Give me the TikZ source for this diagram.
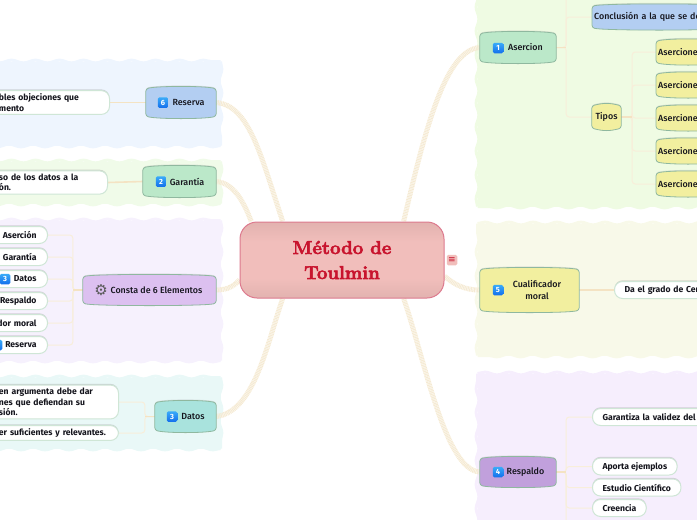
\documentclass[tikz,border=0pt]{standalone}
\usepackage{fontspec}
\setsansfont{Fira Sans}
\newfontfamily\symbolfont{DejaVu Sans}
\newfontfamily\topicfont{Fira Sans Medium}
\newfontfamily\titlefont[BoldFeatures={FakeBold=3}]{Latin Modern Roman}
\usetikzlibrary{backgrounds,decorations.pathmorphing,shadows}
\definecolor{inkdark}{HTML}{14141C}
\definecolor{wirecream}{HTML}{F5EAD3}
\definecolor{twigcream}{HTML}{F8EEDA}
\definecolor{stemcream}{HTML}{F4E3C3}
\definecolor{boxedge}{HTML}{8FB89F}
\definecolor{leafedge}{HTML}{CFE6D6}
\definecolor{hubred}{HTML}{C8142E}
\definecolor{hubfill}{HTML}{F1BEBB}
\definecolor{hubedge}{HTML}{DD7A8E}
\definecolor{reservablue}{HTML}{B3CEF2}
\definecolor{garantiagreen}{HTML}{BBE8C9}
\definecolor{constalilac}{HTML}{DCC0F0}
\definecolor{datosteal}{HTML}{A9E3DD}
\definecolor{aseryellow}{HTML}{F2EF9F}
\definecolor{respaldopurple}{HTML}{C1A0DC}
\definecolor{blockblue}{HTML}{EEF5FE}
\definecolor{blockgreen}{HTML}{F0FBE9}
\definecolor{blocklilac}{HTML}{F6F1FD}
\definecolor{blockteal}{HTML}{E9F8F7}
\definecolor{blockspring}{HTML}{EFFBE3}
\definecolor{blockcream}{HTML}{F8F9E9}
\definecolor{blockpurple}{HTML}{F6EEFD}
\pgfdeclareverticalshading{hubshade}{100bp}{
  color(0bp)=(hubfill!82!black); color(38bp)=(hubfill); color(62bp)=(hubfill); color(100bp)=(hubfill!82!black)}
\pgfdeclareverticalshading{badgeshade}{100bp}{
  color(0bp)=(blue!65!cyan!90!black); color(100bp)=(cyan!70!blue!70!white)}
\newcommand\lpad{\hspace*{34.5pt}}
\newcommand\waveblock[5]{
  \fill[#1] (#2,#3) rectangle (#4,#5);
  \draw[block,draw=#1] (#2,#3) -- (#4,#3);
  \draw[block,draw=#1] (#4,#3) -- (#4,#5);
  \draw[block,draw=#1] (#4,#5) -- (#2,#5);
  \draw[block,draw=#1] (#2,#5) -- (#2,#3);
}
\tikzset{
  hubbox/.style={draw=hubedge,line width=1,rounded corners=17,shading=hubshade,
    minimum width=204,minimum height=76,align=center,text=hubred,
    font=\titlefont\bfseries\fontsize{18.6}{25}\selectfont},
  topic/.style={inner sep=2,align=center,text=inkdark,font=\topicfont\fontsize{8.9}{12.5}\selectfont},
  topiccut/.style={topic,anchor=west,text width=#1,align=left},
  leaf/.style={draw=leafedge,line width=1,fill=white,rounded corners=8,inner ysep=3,text=inkdark,
    drop shadow={shadow xshift=0,shadow yshift=-1.2,opacity=.3},
    font=\sffamily\bfseries\fontsize{8.6}{10.6}\selectfont},
  leafin/.style={leaf,anchor=west,inner xsep=10,minimum height=17},
  leafout/.style={leaf,anchor=west,inner xsep=10,minimum height=17,text width=#1,align=left},
  leafend/.style={leaf,anchor=east,inner xsep=11,minimum height=17,text width=70,align=right},
  leafcut/.style={leaf,anchor=east,inner xsep=5,text width=#1,align=left},
  badge/.style={rounded corners=1.5,shading=badgeshade,minimum size=10.5,inner sep=0,text=white,
    font=\sffamily\bfseries\fontsize{7.5}{8}\selectfont},
  noteicon/.style={fill=hubfill,rounded corners=1.5,minimum size=10.5,inner sep=0,text=hubred,
    font=\symbolfont\fontsize{9}{9}\selectfont},
  gearicon/.style={inner sep=0,text=gray!70!black,font=\symbolfont\fontsize{15}{15}\selectfont},
  block/.style={line width=3,decorate,decoration={snake,segment length=24,amplitude=1.4}},
  wire/.style={draw=wirecream,line width=5,dash pattern=on 1 off .6},
  twig/.style={draw=twigcream,line width=1,rounded corners=3},
  stem/.style={draw=stemcream,line width=1.6},
  bulge/.style={draw=boxedge,line width=.8,rounded corners=2.5,
    drop shadow={shadow xshift=0,shadow yshift=-1,opacity=.18}}
}
\begin{document}
\begin{tikzpicture}[x=1pt,y=-1pt]
\useasboundingbox (0,0) rectangle (697,520);

% centre
\node[hubbox] (hub) at (342,260) {M\'etodo de\\Toulmin};
\node[noteicon] (note) at (452,260) {≡};

% left topics
\node[topic,minimum width=70,minimum height=33] (reserva) at (181,102.5) {\hspace*{15pt}Reserva};
\node[topic,minimum width=73,minimum height=33] (garantia) at (179.5,181.5) {\hspace*{15pt}Garant\'ia};
\node[topic,minimum width=133,minimum height=32] (consta) at (149.5,290) {\hspace*{14pt}Consta de 6 Elementos};
\node[topic,minimum width=61,minimum height=33] (datos) at (185.5,416.5) {\hspace*{15pt}Datos};
\node[badge] (numreserva) at (163,102.5) {6};
\node[badge] (numgarantia) at (161,181.5) {2};
\node[gearicon] (gear) at (101,290) {⚙};
\node[badge] (numdatos) at (172,416.5) {3};

% left leaves
\node[leafcut=140] (kidreserva) at (110,102.5) {\lpad bles objeciones que\\\lpad mento};
\node[leafcut=138] (kidgarantia) at (108,182.5) {\lpad so de los datos a la\\\lpad \'on.};
\node[leafend] (kidaser) at (48,235) {Aserci\'on};
\node[leafend] (kidgar) at (48,257) {Garant\'ia};
\node[leafend] (kiddat) at (48,279) {Datos};
\node[leafend] (kidres) at (48,301) {Respaldo};
\node[leafend] (kidcua) at (48,323) {dor moral};
\node[leafend] (kidrsv) at (48,345) {Reserva};
\node[badge] (numkiddat) at (5,279) {3};
\node[badge] (numkidrsv) at (-3,345) {};
\node[leafcut=149] (kiddatosa) at (119,402) {\lpad en argumenta debe dar\\\lpad nes que defiendan su\\\lpad si\'on.};
\node[leafcut=149] (kiddatosb) at (119,433) {\lpad er suficientes y relevantes.};

% right topics
\node[topic,minimum width=76,minimum height=33] (asercion) at (518,47.5) {\hspace*{15pt}Asercion};
\node[topic,minimum width=99,minimum height=46,text width=84] (cuali) at (529.5,290) {\hspace*{15pt}Cualificador\\\hspace*{15pt}moral};
\node[topic,minimum width=76,minimum height=32] (respaldo) at (518,472) {\hspace*{15pt}Respaldo};
\node[badge] (numasercion) at (498,48) {1};
\node[badge] (numcuali) at (498,290) {5};
\node[badge] (numrespaldo) at (498,472) {4};
\node[topiccut=130,minimum height=27] (conclusion) at (592,17) {Conclusi\'on a la que se de};
\node[topic,minimum width=29,minimum height=28] (tipos) at (606.5,117) {Tipos};
\node[topiccut=60,minimum height=27] (tipoa) at (656,52) {Asercione};
\node[topiccut=60,minimum height=27] (tipob) at (656,85) {Asercione};
\node[topiccut=60,minimum height=27] (tipoc) at (656,118) {Asercione};
\node[topiccut=60,minimum height=27] (tipod) at (656,151) {Asercione};
\node[topiccut=60,minimum height=27] (tipoe) at (656,184) {Asercione};

% right leaves
\node[leafout=100] (kidcuali) at (614,290) {Da el grado de Cer};
\node[leafout=130] (kidgaran) at (592,417) {Garantiza la validez del};
\node[leafin] (kidaporta) at (592,466.5) {Aporta ejemplos};
\node[leafin] (kidestudio) at (592,487.5) {Estudio Cient\'ifico};
\node[leafin] (kidcreencia) at (592,508) {Creencia};
\coordinate (offtop) at (566,-6);
\coordinate (offbottom) at (566,530);

\begin{scope}[on background layer]
  % wavy blocks
  \waveblock{blockblue}{-20}{61.5}{220.5}{145.5}
  \waveblock{blockgreen}{-20}{161.5}{220.5}{203.5}
  \waveblock{blocklilac}{-20}{220.5}{220.5}{360.5}
  \waveblock{blockteal}{-20}{377.5}{220.5}{448.5}
  \waveblock{blockspring}{477.5}{-20}{720}{206.5}
  \waveblock{blockcream}{477.5}{223.5}{720}{355.5}
  \waveblock{blockpurple}{477.5}{373.5}{720}{540}

  % thick wires
  \draw[wire] (reserva.east) .. controls (250,105) and (262,160) .. (hub.147);
  \draw[wire] (garantia.east) .. controls (235,183) and (245,205) .. (hub.157);
  \draw[wire] (consta.east) .. controls (228,290) and (234,286) .. (hub.191);
  \draw[wire] (datos.east) .. controls (255,412) and (268,340) .. (hub.213);
  \draw[wire] (asercion.west) .. controls (445,50) and (425,130) .. (hub.32);
  \draw[wire] (cuali.west) .. controls (465,290) and (455,285) .. (hub.351);
  \draw[wire] (respaldo.west) .. controls (445,470) and (425,360) .. (hub.328);

  % thin branches
  \draw[stem] (reserva.west) -- (kidreserva.east);
  \draw[stem] (garantia.west) -- (kidgarantia.east);
  \draw[stem] (cuali.east) -- (kidcuali.west);
  \foreach \kid in {kidaser,kidgar,kiddat,kidres,kidcua,kidrsv}
    \draw[twig] (consta.west) -- ++(-10,0) |- (\kid.east);
  \foreach \kid in {kiddatosa,kiddatosb}
    \draw[twig] (datos.west) -- ++(-10,0) |- (\kid.east);
  \foreach \kid in {conclusion,tipos}
    \draw[twig] (asercion.east) -- ++(10,0) |- (\kid.west);
  \draw[twig] (asercion.east) -| (offtop);
  \foreach \kid in {tipoa,tipob,tipoc,tipod,tipoe}
    \draw[twig] (tipos.east) -- ++(11,0) |- (\kid.west);
  \foreach \kid in {kidgaran,kidaporta,kidestudio,kidcreencia}
    \draw[twig] (respaldo.east) -- ++(10,0) |- (\kid.west);
  \draw[twig] (respaldo.east) -| (offbottom);
  \draw[stem] (consta.west) -- ++(-10,0);
  \draw[stem] (datos.west) -- ++(-10,0);
  \draw[stem] (asercion.east) -- ++(10,0);
  \draw[stem] (tipos.east) -- ++(11,0);
  \draw[stem] (respaldo.east) -- ++(10,0);

  % bulged boxes
  \foreach \n/\c in {reserva/reservablue,garantia/garantiagreen,consta/constalilac,datos/datosteal,
      asercion/garantiagreen,cuali/aseryellow,respaldo/respaldopurple,conclusion/reservablue,
      tipos/aseryellow,tipoa/aseryellow,tipob/aseryellow,tipoc/aseryellow,tipod/aseryellow,tipoe/aseryellow}
    \draw[bulge,fill=\c] ([yshift=-3]\n.north west)
      .. controls ([xshift=12]\n.north west) and ([xshift=-12]\n.north east) .. ([yshift=-3]\n.north east)
      -- ([yshift=3]\n.south east)
      .. controls ([xshift=-12]\n.south east) and ([xshift=12]\n.south west) .. ([yshift=3]\n.south west)
      -- cycle;
\end{scope}
\end{tikzpicture}
\end{document}
